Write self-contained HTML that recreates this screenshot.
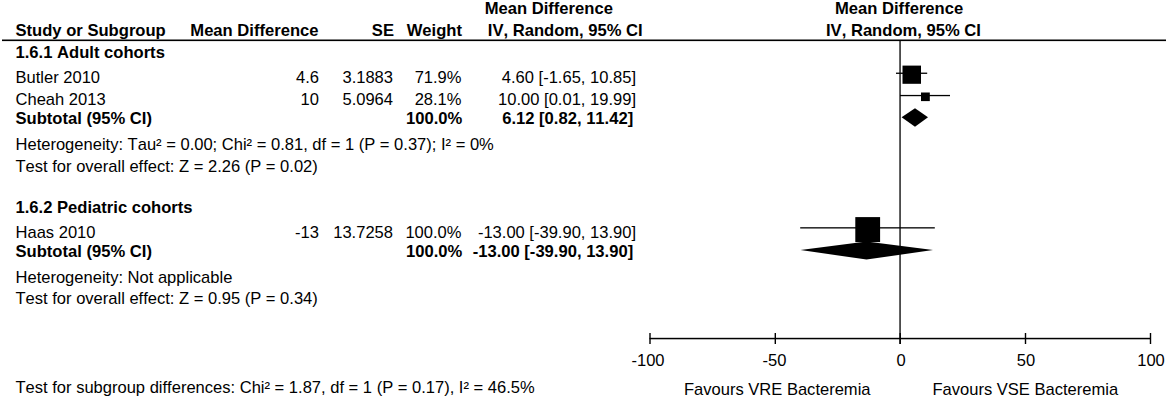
<!DOCTYPE html>
<html><head><meta charset="utf-8"><style>
html,body{margin:0;padding:0;background:#fff;width:1168px;height:398px;overflow:hidden}
svg{display:block}
text{font-kerning:none;font-family:"Liberation Sans",sans-serif;font-size:16.55px;fill:#000}
</style></head><body>
<svg width="1168" height="398" viewBox="0 0 1168 398">
<g fill="#000">
<rect x="2" y="39.5" width="1164" height="1.6"/>
<rect x="899.4" y="40" width="1.3" height="304"/>
<rect x="649.5" y="337.8" width="501" height="1.5"/>
<rect x="649.3" y="333" width="1.4" height="11"/>
<rect x="774.5999999999999" y="333" width="1.4" height="11"/>
<rect x="899.5" y="333" width="1.4" height="11"/>
<rect x="1024.8" y="333" width="1.4" height="11"/>
<rect x="1149.8" y="333" width="1.4" height="11"/>
<rect x="896" y="72.6" width="31.2" height="1.3"/>
<rect x="902.5" y="65.6" width="18.5" height="18.2"/>
<rect x="900" y="94.9" width="50" height="1.3"/>
<rect x="921" y="92.5" width="8.8" height="8.6"/>
<polygon points="901.6,117.3 915,108.2 928,117.3 915,126.8"/>
<rect x="800.2" y="227.2" width="134.6" height="1.3"/>
<rect x="855.3" y="217.1" width="24.8" height="25"/>
<polygon points="800.5,250.1 866.5,241.5 933,250.1 866.5,259.5"/>
</g>
<text x="484.7" y="13.7" style="font-weight:bold;font-size:16.6px">Mean Difference</text>
<text x="835" y="13.7" style="font-weight:bold;font-size:16.6px">Mean Difference</text>
<text x="15.5" y="36" style="font-weight:bold;font-size:16.6px">Study or Subgroup</text>
<text x="318.5" y="36" text-anchor="end" style="font-weight:bold;font-size:16.6px">Mean Difference</text>
<text x="394" y="36" text-anchor="end" style="font-weight:bold;font-size:16.6px">SE</text>
<text x="462" y="36" text-anchor="end" style="font-weight:bold;font-size:16.6px">Weight</text>
<text x="487.8" y="36" style="font-weight:bold;font-size:16.6px">IV, Random, 95% CI</text>
<text x="826" y="36" style="font-weight:bold;font-size:16.6px">IV, Random, 95% CI</text>
<text x="15.5" y="58.1" style="font-weight:bold;font-size:16.6px">1.6.1 Adult cohorts</text>
<text x="15.5" y="82.7">Butler 2010</text>
<text x="319" y="82.7" text-anchor="end">4.6</text>
<text x="393" y="82.7" text-anchor="end">3.1883</text>
<text x="461.5" y="82.7" text-anchor="end">71.9%</text>
<text x="636" y="82.7" text-anchor="end">4.60 [-1.65, 10.85]</text>
<text x="15.5" y="105.3">Cheah 2013</text>
<text x="319" y="105.3" text-anchor="end">10</text>
<text x="393" y="105.3" text-anchor="end">5.0964</text>
<text x="461.5" y="105.3" text-anchor="end">28.1%</text>
<text x="636" y="105.3" text-anchor="end">10.00 [0.01, 19.99]</text>
<text x="15.5" y="124.2" style="font-weight:bold;font-size:16.6px">Subtotal (95% CI)</text>
<text x="462.3" y="124.2" text-anchor="end" style="font-weight:bold;font-size:16.6px">100.0%</text>
<text x="633.2" y="124.2" text-anchor="end" style="font-weight:bold;font-size:16.6px">6.12 [0.82, 11.42]</text>
<text x="15.5" y="149.8">Heterogeneity: Tau² = 0.00; Chi² = 0.81, df = 1 (P = 0.37); I² = 0%</text>
<text x="15.5" y="171.7">Test for overall effect: Z = 2.26 (P = 0.02)</text>
<text x="15.5" y="213.3" style="font-weight:bold;font-size:16.6px">1.6.2 Pediatric cohorts</text>
<text x="15.5" y="237.9">Haas 2010</text>
<text x="319" y="237.9" text-anchor="end">-13</text>
<text x="393" y="237.9" text-anchor="end">13.7258</text>
<text x="461.5" y="237.9" text-anchor="end">100.0%</text>
<text x="636" y="237.9" text-anchor="end">-13.00 [-39.90, 13.90]</text>
<text x="15.5" y="256.5" style="font-weight:bold;font-size:16.6px">Subtotal (95% CI)</text>
<text x="462.3" y="256.5" text-anchor="end" style="font-weight:bold;font-size:16.6px">100.0%</text>
<text x="633.2" y="256.5" text-anchor="end" style="font-weight:bold;font-size:16.6px">-13.00 [-39.90, 13.90]</text>
<text x="15.5" y="282.5">Heterogeneity: Not applicable</text>
<text x="15.5" y="304.2">Test for overall effect: Z = 0.95 (P = 0.34)</text>
<text x="15.5" y="392.7">Test for subgroup differences: Chi² = 1.87, df = 1 (P = 0.17), I² = 46.5%</text>
<text x="648" y="366.2" text-anchor="middle">-100</text>
<text x="774.5" y="366.2" text-anchor="middle">-50</text>
<text x="901" y="366.2" text-anchor="middle">0</text>
<text x="1026" y="366.2" text-anchor="middle">50</text>
<text x="1151" y="366.2" text-anchor="middle">100</text>
<text x="684" y="394.8">Favours VRE Bacteremia</text>
<text x="932.5" y="394.8">Favours VSE Bacteremia</text>
</svg>
</body></html>
